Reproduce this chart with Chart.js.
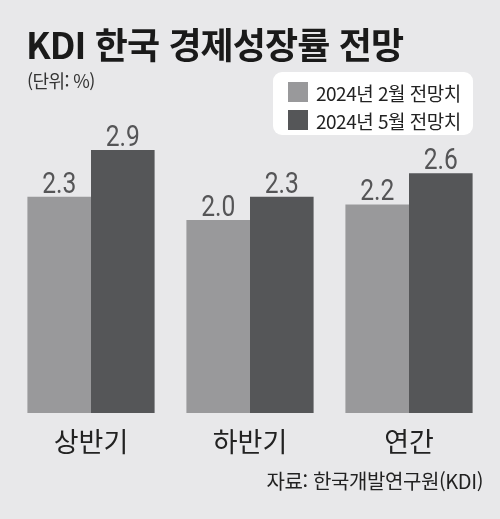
<!DOCTYPE html>
<html lang="ko">
<head>
<meta charset="utf-8">
<script src="https://cdn.jsdelivr.net/npm/chart.js@4"></script>
<style>
  html, body { margin: 0; padding: 0; }
  body {
    width: 500px; height: 519px; position: relative; overflow: hidden;
    background: #e8e8ea;
    font-family: "Noto Sans CJK KR", "Noto Sans", sans-serif;
  }
  #wrap { position: absolute; left: 0; top: 0; width: 500px; height: 519px; }
  .title {
    position: absolute; left: 26px; top: 17px; margin: 0;
    font-size: 36px; font-weight: 700; color: #1a1a1a;
    letter-spacing: -0.9px; white-space: nowrap;
  }
  .unit {
    position: absolute; left: 27px; top: 67px;
    font-size: 18px; color: #333; letter-spacing: -0.6px;
  }
  .legend {
    position: absolute; left: 273px; top: 72px; width: 200px; height: 63px;
    background: #fff; border-radius: 9px; box-sizing: border-box;
    padding: 6px 0 0 15px;
  }
  .legend div {
    display: flex; align-items: center; height: 28px;
    font-size: 19px; color: #222; letter-spacing: -0.5px; white-space: nowrap;
  }
  .legend span.sw { width: 20px; height: 20px; margin-right: 8px; flex: none; }
  .source {
    position: absolute; right: 17px; top: 466px;
    font-size: 20px; color: #222; letter-spacing: -0.4px; white-space: nowrap;
  }
</style>
</head>
<body>
<div id="wrap"><canvas id="myChart"></canvas></div>
<h1 class="title">KDI 한국 경제성장률 전망</h1>
<div class="unit">(단위: %)</div>
<div class="legend" id="legend"></div>
<div class="source">자료: 한국개발연구원(KDI)</div>

<script>
// values for the chart
const categories = ['상반기', '하반기', '연간'];
const seriesNames = ['2024년 2월 전망치', '2024년 5월 전망치'];
const febValues = [2.3, 2.0, 2.2];
const mayValues = [2.9, 2.3, 2.6];
const seriesColors = ['#99999b', '#555658'];

// value axis as drawn in the picture (bars start at the bottom)
const axisMin = -0.475;
const axisMax = 3.54;

// legend (html)
const legendBox = document.getElementById('legend');
seriesNames.forEach((name, i) => {
	const row = document.createElement('div');
	const sw = document.createElement('span');
	sw.className = 'sw';
	sw.style.background = seriesColors[i];
	row.appendChild(sw);
	row.appendChild(document.createTextNode(name));
	legendBox.appendChild(row);
});

// labels above bars (narrow digits like the original)
const valueLabels = {
	id: 'valueLabels',
	afterDatasetsDraw(chart) {
		const ctx = chart.ctx;
		chart.data.datasets.forEach((ds, i) => {
			chart.getDatasetMeta(i).data.forEach((bar, j) => {
				ctx.save();
				ctx.translate(bar.x, bar.y - 4);
				ctx.scale(0.82, 1);
				ctx.font = '30px Roboto, "Liberation Sans", sans-serif';
				ctx.fillStyle = '#555557';
				ctx.textAlign = 'center';
				ctx.textBaseline = 'alphabetic';
				ctx.fillText(ds.data[j].toFixed(1), 0, 0);
				ctx.restore();
			});
		});
	}
};

const canvas = document.getElementById('myChart');

const chartData = {
	labels: categories,
	datasets: [{
		label: seriesNames[0],
		data: febValues,
		backgroundColor: seriesColors[0],
		base: axisMin
	}, {
		label: seriesNames[1],
		data: mayValues,
		backgroundColor: seriesColors[1],
		base: axisMin
	}]
};

const config = {
	type: 'bar',
	data: chartData,
	plugins: [valueLabels],
	options: {
		responsive: true,
		maintainAspectRatio: false,
		animation: false,
		layout: {
			padding: { left: 11.5, right: 11.5, top: 100, bottom: 0 }
		},
		plugins: {
			legend: { display: false },
			tooltip: { enabled: false }
		},
		datasets: {
			bar: {
				categoryPercentage: 0.8,
				barPercentage: 1.0
			}
		},
		scales: {
			y: {
				min: axisMin,
				max: axisMax,
				display: false
			},
			x: {
				grid: { display: false },
				border: { display: false },
				ticks: {
					color: '#222',
					padding: 5,
					font: { family: '"Noto Sans CJK KR"', size: 27 }
				},
				afterFit(axis) {
					axis.height = 106;
				}
			}
		}
	}
};

var myChart = new Chart(canvas, config);
</script>
</body>
</html>
